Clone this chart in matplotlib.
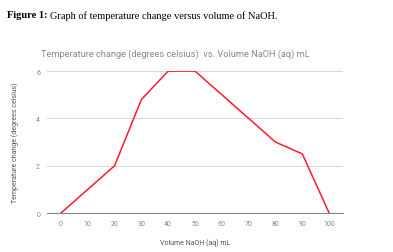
import matplotlib
matplotlib.use('Agg')
import matplotlib.pyplot as plt

volume = [0, 20, 30, 40, 50, 60, 70, 80, 90, 100]
temp_change = [0, 2, 4.8, 6, 6, 5, 4, 3, 2.5, 0]
xticks = [0, 10, 20, 30, 40, 50, 60, 70, 80, 90, 100]
yticks = [0, 2, 4, 6]

fig = plt.figure(figsize=(3.93, 2.53), dpi=100)
ax = fig.add_axes([0.1196, 0.154, 0.7534, 0.561])

ax.plot(volume, temp_change, color='#ff1a2e', lw=1.1, zorder=3)
ax.set_xlim(-5.2, 105.2)
ax.set_ylim(0, 6)
ax.set_xticks(xticks)
ax.set_yticks(yticks)
ax.grid(axis='y', color='#d9d9d9', lw=0.7)
for s in ['top', 'right', 'left']:
    ax.spines[s].set_visible(False)
ax.spines['bottom'].set_color('#888888')
ax.spines['bottom'].set_linewidth(0.8)
ax.tick_params(length=0, labelsize=5, labelcolor='#888888', pad=5)
for lbl in ax.get_xticklabels() + ax.get_yticklabels():
    lbl.set_family('Roboto')

ax.set_xlabel('Volume NaOH (aq) mL', fontsize=5, color='#555555',
              family='Roboto', labelpad=8)
ax.set_ylabel('Temperature change (degrees celsius)', fontsize=5,
              color='#555555', family='Roboto', labelpad=12)

# chart title
fig.text(41 / 393, 1 - 54 / 253,
         'Temperature change (degrees celsius)  vs. Volume NaOH (aq) mL',
         fontsize=6.65, color='#8a8a8a', family='Roboto', va='center')

# figure caption above the chart
t1 = fig.text(7 / 393, 1 - 16 / 253, 'Figure 1:', fontsize=7.5, va='center',
              family='Liberation Serif', weight='bold')
fig.canvas.draw()
bb = t1.get_window_extent()
fig.text(bb.x1 / fig.bbox.width + 0.006, 1 - 16 / 253,
         'Graph of temperature change versus volume of NaOH.',
         fontsize=7.5, va='center', family='Liberation Serif')

fig.savefig('out.png', dpi=100)
